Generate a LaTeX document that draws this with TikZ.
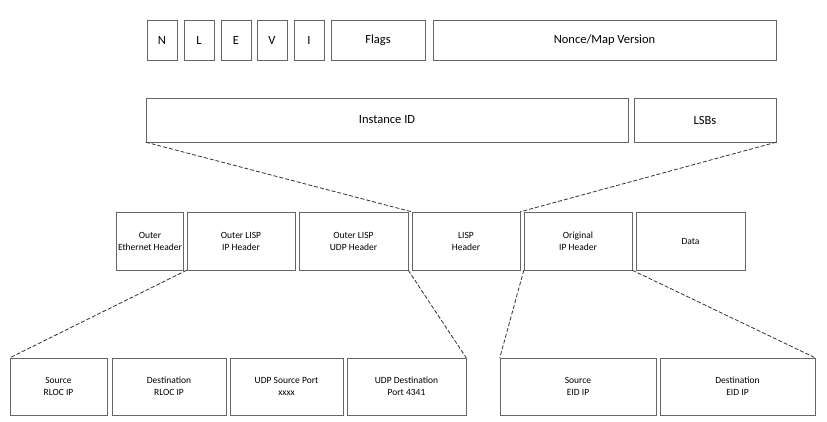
\documentclass[tikz,border=0pt]{standalone}
\usepackage{fontspec}
\setmainfont{Carlito}
\begin{document}
\begin{tikzpicture}[x=1pt,y=-1pt,
		box/.style={draw=black!60, fill=white, inner sep=1pt, align=center, font=\fontsize{12.5}{14}\selectfont},
		small/.style={box, font=\fontsize{9.5}{12}\selectfont},
		zoomline/.style={dash pattern=on 4pt off 2pt, thick, black!80},
	]
	\path[use as bounding box, fill=white] (0,0) rectangle (827,422);
	% header bits
	\node[box, minimum width=30pt, minimum height=40pt] (n) at (162,40) {N};
	\node[box, minimum width=30pt, minimum height=40pt] (l) at (199,40) {L};
	\node[box, minimum width=30pt, minimum height=40pt] (e) at (236,40) {E};
	\node[box, minimum width=30pt, minimum height=40pt] (v) at (272,40) {V};
	\node[box, minimum width=30pt, minimum height=40pt] (i) at (309,40) {I};
	\node[box, minimum width=94pt, minimum height=40pt] (flags) at (378,40) {Flags};
	\node[box, minimum width=343pt, minimum height=40pt] (nonce) at (604.5,40) {Nonce/Map Version};
	\node[box, minimum width=482pt, minimum height=44pt] (iid) at (387,120) {Instance ID};
	\node[box, minimum width=142pt, minimum height=44pt] (lsb) at (705,120) {LSBs};
	% packet
	\node[small, minimum width=67pt, minimum height=58pt] (eth) at (150,241) {Outer\\Ethernet Header};
	\node[small, minimum width=108pt, minimum height=58pt] (oip) at (241,241) {Outer LISP\\IP Header};
	\node[small, minimum width=109pt, minimum height=58pt] (oudp) at (353.5,241) {Outer LISP\\UDP Header};
	\node[small, minimum width=108pt, minimum height=58pt] (lisp) at (466,241) {LISP\\Header};
	\node[small, minimum width=108pt, minimum height=58pt] (orig) at (578,241) {Original\\IP Header};
	\node[small, minimum width=109pt, minimum height=58pt] (data) at (690.5,241) {Data};
	% fields
	\node[small, minimum width=97pt, minimum height=57pt] (srloc) at (58.5,386.5) {Source\\RLOC IP};
	\node[small, minimum width=114pt, minimum height=57pt] (drloc) at (169,386.5) {Destination\\RLOC IP};
	\node[small, minimum width=113pt, minimum height=57pt] (sport) at (286.5,386.5) {UDP Source Port\\xxxx};
	\node[small, minimum width=119pt, minimum height=57pt] (dport) at (406.5,386.5) {UDP Destination\\Port 4341};
	\node[small, minimum width=156pt, minimum height=57pt] (seid) at (578,386.5) {Source\\EID IP};
	\node[small, minimum width=155pt, minimum height=57pt] (deid) at (737.5,386.5) {Destination\\EID IP};
	% zoom lines
	\draw[zoomline] (iid.south west) -- (lisp.north west);
	\draw[zoomline] (lsb.south east) -- (lisp.north east);
	\draw[zoomline] (oip.south west) -- (srloc.north west);
	\draw[zoomline] (oudp.south east) -- (dport.north east);
	\draw[zoomline] (orig.south west) -- (seid.north west);
	\draw[zoomline] (orig.south east) -- (deid.north east);
\end{tikzpicture}
\end{document}
